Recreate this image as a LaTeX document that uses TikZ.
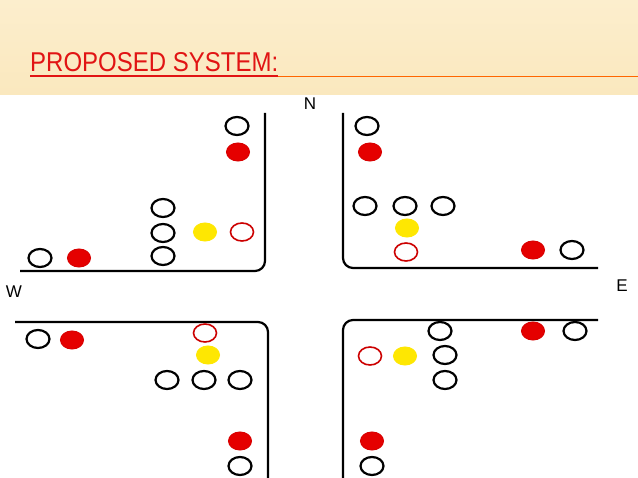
\documentclass[tikz,border=0pt]{standalone}
\usepackage{fontspec}
\setmainfont{Liberation Sans}
\usetikzlibrary{shapes.geometric}
\definecolor{bannertop}{RGB}{252,238,205}
\definecolor{bannerbot}{RGB}{250,232,190}
\definecolor{titlered}{RGB}{225,20,20}
\begin{document}
\begin{tikzpicture}[x=1pt,y=-1pt,
  lamp/.style={draw=black,line width=2.2pt,ellipse,minimum width=23pt,minimum height=18pt,inner sep=0pt},
  redf/.style={lamp,draw=red!85!black,fill=red!90!black,line width=1pt},
  redo/.style={lamp,draw=red!80!black,line width=1.6pt},
  yel/.style={lamp,draw=yellow!90!orange,fill=yellow!90!orange,line width=1pt},
  road/.style={line width=2.2pt,rounded corners=10pt},
  lbl/.style={font=\fontsize{17}{17}\selectfont}]
\useasboundingbox (0,0) rectangle (638,478);
\fill[white] (0,0) rectangle (638,478);
\fill[top color=bannertop, bottom color=bannerbot] (0,0) rectangle (638,95);
\node[anchor=base west,inner sep=0pt,text=titlered] (title) at (30,72) {\resizebox{248pt}{19pt}{PROPOSED SYSTEM:}};
\draw[titlered,line width=1.2pt] (30,76) -- (278,76);
\draw[orange!80!red,line width=0.8pt] (278,76) -- (638,76);
% roads
\draw[road] (265,113) -- (265,271) -- (20,271);
\draw[road] (343,113) -- (343,268) -- (598,268);
\draw[road] (15,322) -- (268,322) -- (268,478);
\draw[road] (598,320) -- (343,320) -- (343,478);
\node[lbl] (n) at (310,104) {N};
\node[lbl] (w) at (14,292) {W};
\node[lbl] (e) at (622,286) {E};
% NW
\node[lamp] (a1) at (237,126) {};
\node[redf] (a2) at (238,152) {};
\node[lamp] (a3) at (163,208) {};
\node[lamp] (a4) at (163,233) {};
\node[lamp] (a5) at (163,256) {};
\node[yel] (a6) at (205,232) {};
\node[redo] (a7) at (242,232) {};
\node[lamp] (a8) at (40,258) {};
\node[redf] (a9) at (79,258) {};
% NE
\node[lamp] (b1) at (367,126) {};
\node[redf] (b2) at (370,152) {};
\node[lamp] (b3) at (365,206) {};
\node[lamp] (b4) at (405,206) {};
\node[lamp] (b5) at (443,206) {};
\node[yel] (b6) at (407,228) {};
\node[redo] (b7) at (406,252) {};
\node[redf] (b8) at (533,250) {};
\node[lamp] (b9) at (572,250) {};
% SW
\node[lamp] (c1) at (38,339) {};
\node[redf] (c2) at (72,340) {};
\node[redo] (c3) at (205,333) {};
\node[yel] (c4) at (208,355) {};
\node[lamp] (c5) at (167,380) {};
\node[lamp] (c6) at (204,380) {};
\node[lamp] (c7) at (240,380) {};
\node[redf] (c8) at (240,441) {};
\node[lamp] (c9) at (240,466) {};
% SE
\node[lamp] (d1) at (440,331) {};
\node[lamp] (d2) at (445,355) {};
\node[lamp] (d3) at (445,380) {};
\node[redo] (d4) at (370,356) {};
\node[yel] (d5) at (405,356) {};
\node[redf] (d6) at (533,331) {};
\node[lamp] (d7) at (575,331) {};
\node[redf] (d8) at (372,441) {};
\node[lamp] (d9) at (372,466) {};
\end{tikzpicture}
\end{document}
